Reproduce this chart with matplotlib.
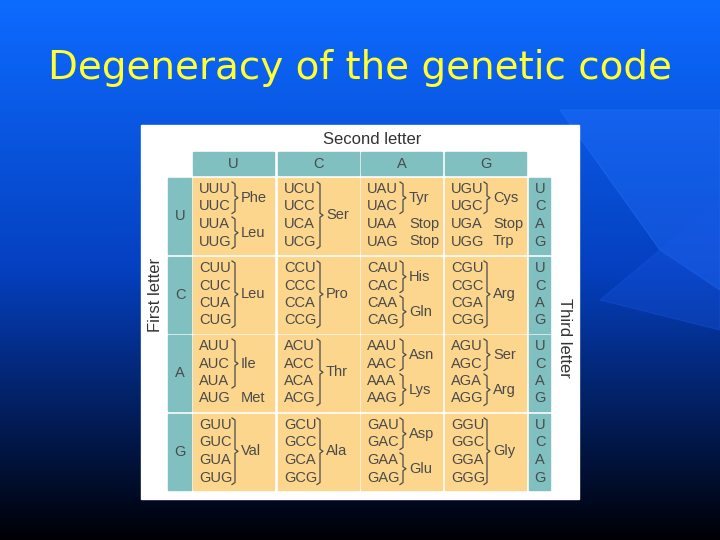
import matplotlib
matplotlib.use("Agg")
import matplotlib.pyplot as plt
import numpy as np
from matplotlib.patches import Rectangle, Polygon

bases = ["U", "C", "A", "G"]
title = "Degeneracy of the genetic code"
groups = {
    ("U","U"): [(0,1,"Phe"),(2,3,"Leu")],
    ("U","C"): [(0,3,"Ser")],
    ("U","A"): [(0,1,"Tyr"),(2,2,"Stop"),(3,3,"Stop")],
    ("U","G"): [(0,1,"Cys"),(2,2,"Stop"),(3,3,"Trp")],
    ("C","U"): [(0,3,"Leu")],
    ("C","C"): [(0,3,"Pro")],
    ("C","A"): [(0,1,"His"),(2,3,"Gln")],
    ("C","G"): [(0,3,"Arg")],
    ("A","U"): [(0,2,"Ile"),(3,3,"Met")],
    ("A","C"): [(0,3,"Thr")],
    ("A","A"): [(0,1,"Asn"),(2,3,"Lys")],
    ("A","G"): [(0,1,"Ser"),(2,3,"Arg")],
    ("G","U"): [(0,3,"Val")],
    ("G","C"): [(0,3,"Ala")],
    ("G","A"): [(0,1,"Asp"),(2,3,"Glu")],
    ("G","G"): [(0,3,"Gly")],
}

plt.rcParams['font.family'] = ['Liberation Sans', 'DejaVu Sans']
fig = plt.figure(figsize=(7.2,5.4), dpi=100)
ax = fig.add_axes([0,0,1,1])
ax.set_xlim(0,720); ax.set_ylim(540,0); ax.axis("off")

t = np.linspace(0,1,200)[:,None]
top = np.array([0.05,0.42,1.0]); mid = np.array([0.02,0.25,0.75]); bot = np.array([0.0,0.0,0.02])
col = np.where(t<0.5, top+(mid-top)*(t/0.5), mid+(bot-mid)*((t-0.5)/0.5))
img = np.repeat(col[:,None,:],2,axis=1).reshape(200,2,3)
ax.imshow(img, extent=[0,720,540,0], aspect="auto", zorder=0)
ax.add_patch(Polygon([[560,110],[720,110],[720,290],[660,250]], closed=True, color=(0.15,0.45,1.0), alpha=0.35, zorder=1))
ax.add_patch(Polygon([[600,300],[720,200],[720,330]], closed=True, color=(0.1,0.35,0.9), alpha=0.3, zorder=1))

ax.text(360,68,title,color="#ffff33",fontsize=28,ha="center",va="center",zorder=5,family="DejaVu Sans")

ax.add_patch(Rectangle((141,125),438,374,color="white",zorder=2))
teal="#80c0c0"; cell="#fcd68c"; tc="#4a4a4a"; fs=10.5
colx=[193,278,361,445]; cw=81
rowy=[178,257,335,414]; rh=76
ax.text(372,139,"Second letter",fontsize=12,color="#333",ha="center",va="center",zorder=5)
ax.text(155,295,"First letter",fontsize=12,color="#333",ha="center",va="center",rotation=90,zorder=5)
ax.text(565,338,"Third letter",fontsize=12,color="#333",ha="center",va="center",rotation=270,zorder=5)
for j,b in enumerate(bases):
    ax.add_patch(Rectangle((colx[j],152),cw,23,color=teal,zorder=3))
    ax.text(colx[j]+cw/2,164,b,fontsize=fs,color=tc,ha="center",va="center",zorder=5)
for i,f in enumerate(bases):
    y0=rowy[i]
    ax.add_patch(Rectangle((168,y0),23,rh,color=teal,zorder=3))
    ax.text(180,y0+rh/2,f,fontsize=fs,color=tc,ha="center",va="center",zorder=5)
    ax.add_patch(Rectangle((529,y0),21,rh,color=teal,zorder=3))
    for k,b3 in enumerate(bases):
        ax.text(540,y0+11+k*17.5,b3,fontsize=fs,color=tc,ha="center",va="center",zorder=5)
    for j,s in enumerate(bases):
        x0=colx[j]
        ax.add_patch(Rectangle((x0,y0),cw,rh,color=cell,zorder=3))
        for k,b3 in enumerate(bases):
            ax.text(x0+6,y0+11+k*17.5,f+s+b3,fontsize=fs,color=tc,ha="left",va="center",zorder=5)
        for a,e,name in groups[(f,s)]:
            ya=y0+4+a*17.5; yb=y0+18+e*17.5
            ym=(ya+yb)/2
            bx=x0+39
            if e>a:
                ax.plot([bx,bx+3,bx+3,bx+6,bx+3,bx+3,bx],[ya,ya+2,ym-2,ym,ym+2,yb-2,yb],color=tc,lw=0.9,zorder=5)
                lx=bx+9
            else:
                lx=bx+9
            ax.text(lx,ym,name,fontsize=fs,color=tc,ha="left",va="center",zorder=5)

fig.savefig("out.png",dpi=100)
